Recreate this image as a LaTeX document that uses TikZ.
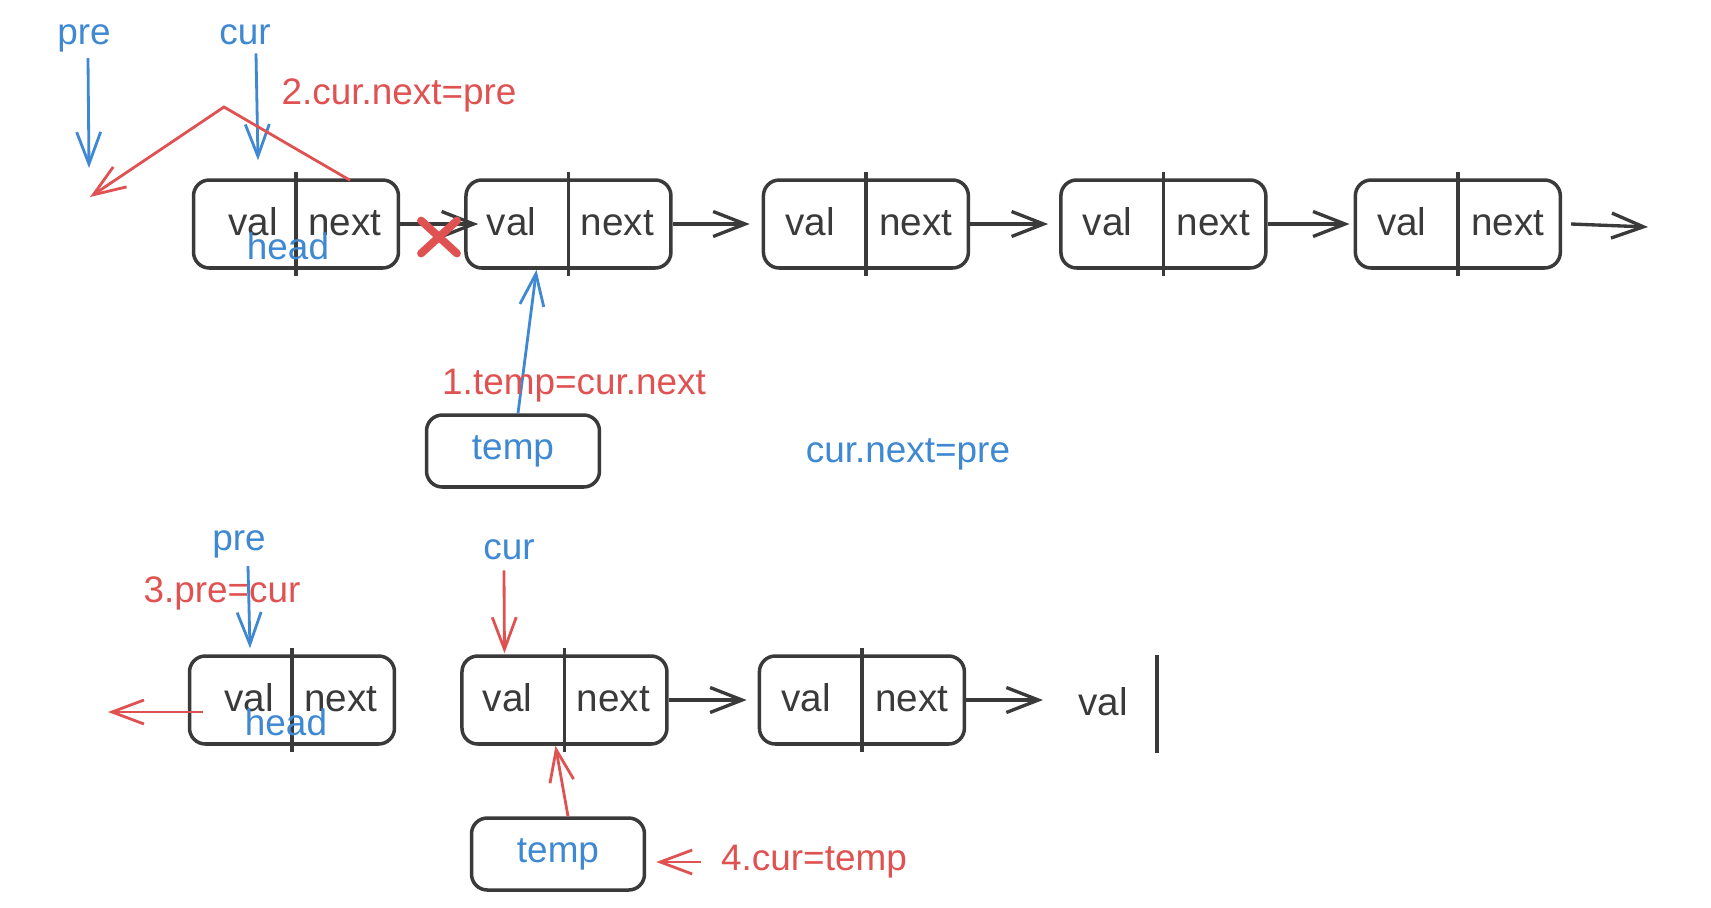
\documentclass[tikz,border=0pt]{standalone}
\usepackage{fontspec}
\setmainfont{Liberation Sans}
\usetikzlibrary{arrows.meta, positioning, calc, shapes.misc}
\definecolor{inkGray}{HTML}{3A3A3A}
\definecolor{ptrBlue}{HTML}{3F88D2}
\definecolor{stepRed}{HTML}{E05252}

\begin{document}
\begin{tikzpicture}[
    x=0.02cm, y=-0.02cm,
    node distance=1.78cm,
    % List Node Boxes
    listbox/.style={
        rectangle,
        rounded corners=9pt,
        draw=inkGray,
        line width=2pt,
        minimum width=4.1cm,
        minimum height=1.76cm
    },
    % Pointer Box (temp)
    tempbox/.style={
        listbox,
        minimum width=3.46cm,
        minimum height=1.44cm,
        text=ptrBlue,
        font=\fontsize{21}{25}\selectfont
    },
    % Field Texts (val / next)
    cell/.style={
        text=inkGray,
        inner sep=0pt,
        anchor=base,
        font=\fontsize{22}{26}\selectfont
    },
    % Pointer Names
    ptrname/.style={
        text=ptrBlue,
        inner sep=0pt,
        font=\fontsize{21}{25}\selectfont
    },
    % Step Captions
    steptext/.style={
        text=stepRed,
        inner sep=0pt,
        font=\fontsize{21}{25}\selectfont
    },
    % Connecting Lines
    divider/.style={
        draw=inkGray,
        line width=2pt
    },
    link/.style={
        draw=inkGray,
        line width=1.9pt,
        -{Straight Barb[length=0.64cm, width=0.5cm]}
    },
    bluelink/.style={
        draw=ptrBlue,
        line width=1.6pt,
        -{Straight Barb[length=0.64cm, width=0.48cm]}
    },
    redlink/.style={
        draw=stepRed,
        line width=1.6pt,
        -{Straight Barb[length=0.64cm, width=0.48cm]}
    },
    % Broken Link Mark
    cutmark/.style={
        cross out,
        draw=stepRed,
        line width=4.5pt,
        line cap=round,
        minimum width=0.56cm,
        minimum height=0.5cm,
        inner sep=0pt
    }
]
\useasboundingbox (0,0) rectangle (1711,907);

% --- TOP LIST: BEFORE STEP 2 ---
\node[listbox] (n1) at (296,224) {};
\node[listbox, right=1.28cm of n1] (n2) {};
\node[listbox, right=1.78cm of n2] (n3) {};
\node[listbox, right=1.78cm of n3] (n4) {};
\node[listbox, right=1.72cm of n4] (n5) {};
% Dividers
\draw[divider] ($(n1.north)+(0,-6)$) -- ($(n1.south)+(0,6)$);
\draw[divider] ($(n2.north)+(0,-6)$) -- ($(n2.south)+(0,6)$);
\draw[divider] ($(n3.north)+(0,-6)$) -- ($(n3.south)+(0,6)$);
\draw[divider] ($(n4.north)+(0,-6)$) -- ($(n4.south)+(0,6)$);
\draw[divider] ($(n5.north)+(0,-6)$) -- ($(n5.south)+(0,6)$);
% Fields
\node[cell] (n1val) at ($(n1.center)+(-43,11)$) {val};
\node[cell] (n1next) at ($(n1.center)+(49,11)$) {next};
\node[cell] (n2val) at ($(n2.center)+(-57,11)$) {val};
\node[cell] (n2next) at ($(n2.center)+(49,11)$) {next};
\node[cell] (n3val) at ($(n3.center)+(-56,11)$) {val};
\node[cell] (n3next) at ($(n3.center)+(50,11)$) {next};
\node[cell] (n4val) at ($(n4.center)+(-56,11)$) {val};
\node[cell] (n4next) at ($(n4.center)+(50,11)$) {next};
\node[cell] (n5val) at ($(n5.center)+(-56,11)$) {val};
\node[cell] (n5next) at ($(n5.center)+(50,11)$) {next};
\node[ptrname] (head1) at (288,246) {head};
% Links
\coordinate (tail1) at (1648,227);
\draw[link] (n1.east) -- ($(n2.west)+(14,0)$);
\draw[link, shorten >=0.24cm] (n2.east) -- (n3.west);
\draw[link, shorten >=0.22cm] (n3.east) -- (n4.west);
\draw[link, shorten >=0.08cm] (n4.east) -- (n5.west);
\draw[link] ($(n5.east)+(9,0)$) -- (tail1);
\node[cutmark] (cut1) at (439,237) {};

% --- TOP POINTERS ---
\node[ptrname] (pre1) at (84,38) {pre};
\node[ptrname] (cur1) at (245,35) {cur};
\coordinate (preNull) at (89,168);
\draw[bluelink] ($(pre1.south)+(4,6)$) -- (preNull);
\draw[bluelink] ($(cur1.south)+(11,8)$) -- ($(n1.north)+(-38,-18)$);
% Step 2
\node[steptext] (step2) at (399,95) {2.cur.next=pre};
\coordinate (bend2) at (224,107);
\coordinate (oldNull) at (90,197);
\draw[redlink] ($(n1.north)+(54,2)$) -- (bend2) -- (oldNull);
% Step 1
\node[tempbox] (temp1) at (513,451) {temp};
\draw[bluelink] ($(temp1.north)+(5,0)$) -- ($(n2.south)+(-32,0)$);
\node[steptext] (step1) at (574,386) {1.temp=cur.next};
\node[ptrname] (note1) at (908,454) {cur.next=pre};

% --- BOTTOM LIST: AFTER STEP 4 ---
\node[listbox] (m1) at (292,700) {};
\node[listbox, right=1.28cm of m1] (m2) {};
\node[listbox, right=1.78cm of m2] (m3) {};
% Dividers
\draw[divider] ($(m1.north)+(0,-6)$) -- ($(m1.south)+(0,6)$);
\draw[divider] ($(m2.north)+(0,-6)$) -- ($(m2.south)+(0,6)$);
\draw[divider] ($(m3.north)+(0,-6)$) -- ($(m3.south)+(0,6)$);
% Fields
\node[cell] (m1val) at ($(m1.center)+(-43,11)$) {val};
\node[cell] (m1next) at ($(m1.center)+(49,11)$) {next};
\node[cell] (m2val) at ($(m2.center)+(-57,11)$) {val};
\node[cell] (m2next) at ($(m2.center)+(49,11)$) {next};
\node[cell] (m3val) at ($(m3.center)+(-56,11)$) {val};
\node[cell] (m3next) at ($(m3.center)+(50,11)$) {next};
\node[cell] (m4val) at (1103,715) {val};
\coordinate (m4bar) at (1157,704);
\draw[divider] ($(m4bar)+(0,-49)$) -- ($(m4bar)+(0,49)$);
\node[ptrname] (head2) at (286,722) {head};
% Links
\coordinate (oldPrev) at (108,712);
\draw[redlink] ($(m1.west)+(15,12)$) -- (oldPrev);
\draw[link, shorten >=0.22cm] (m2.east) -- (m3.west);
\draw[link, shorten >=0.7cm] (m3.east) -- (m3.east -| m4val.west);

% --- BOTTOM POINTERS ---
\node[ptrname] (pre2) at (239,544) {pre};
\node[steptext] (step3) at (222,593) {3.pre=cur};
\draw[bluelink] ($(pre2.south)+(9,8)$) -- ($(m1.north)+(-42,-6)$);
\node[ptrname] (cur2) at (509,550) {cur};
\draw[redlink] ($(cur2.south)+(-5,10)$) -- ($(m2.north)+(-60,-1)$);
\node[tempbox] (temp2) at (558,854) {temp};
\draw[redlink] ($(temp2.north)+(10,0)$) -- ($(m2.south)+(-9,0)$);
\node[steptext] (step4) at (814,862) {4.cur=temp};
\draw[redlink] ($(step4.west)+(-20,0)$) -- ($(temp2.east)+(10,8)$);

\end{tikzpicture}
\end{document}
